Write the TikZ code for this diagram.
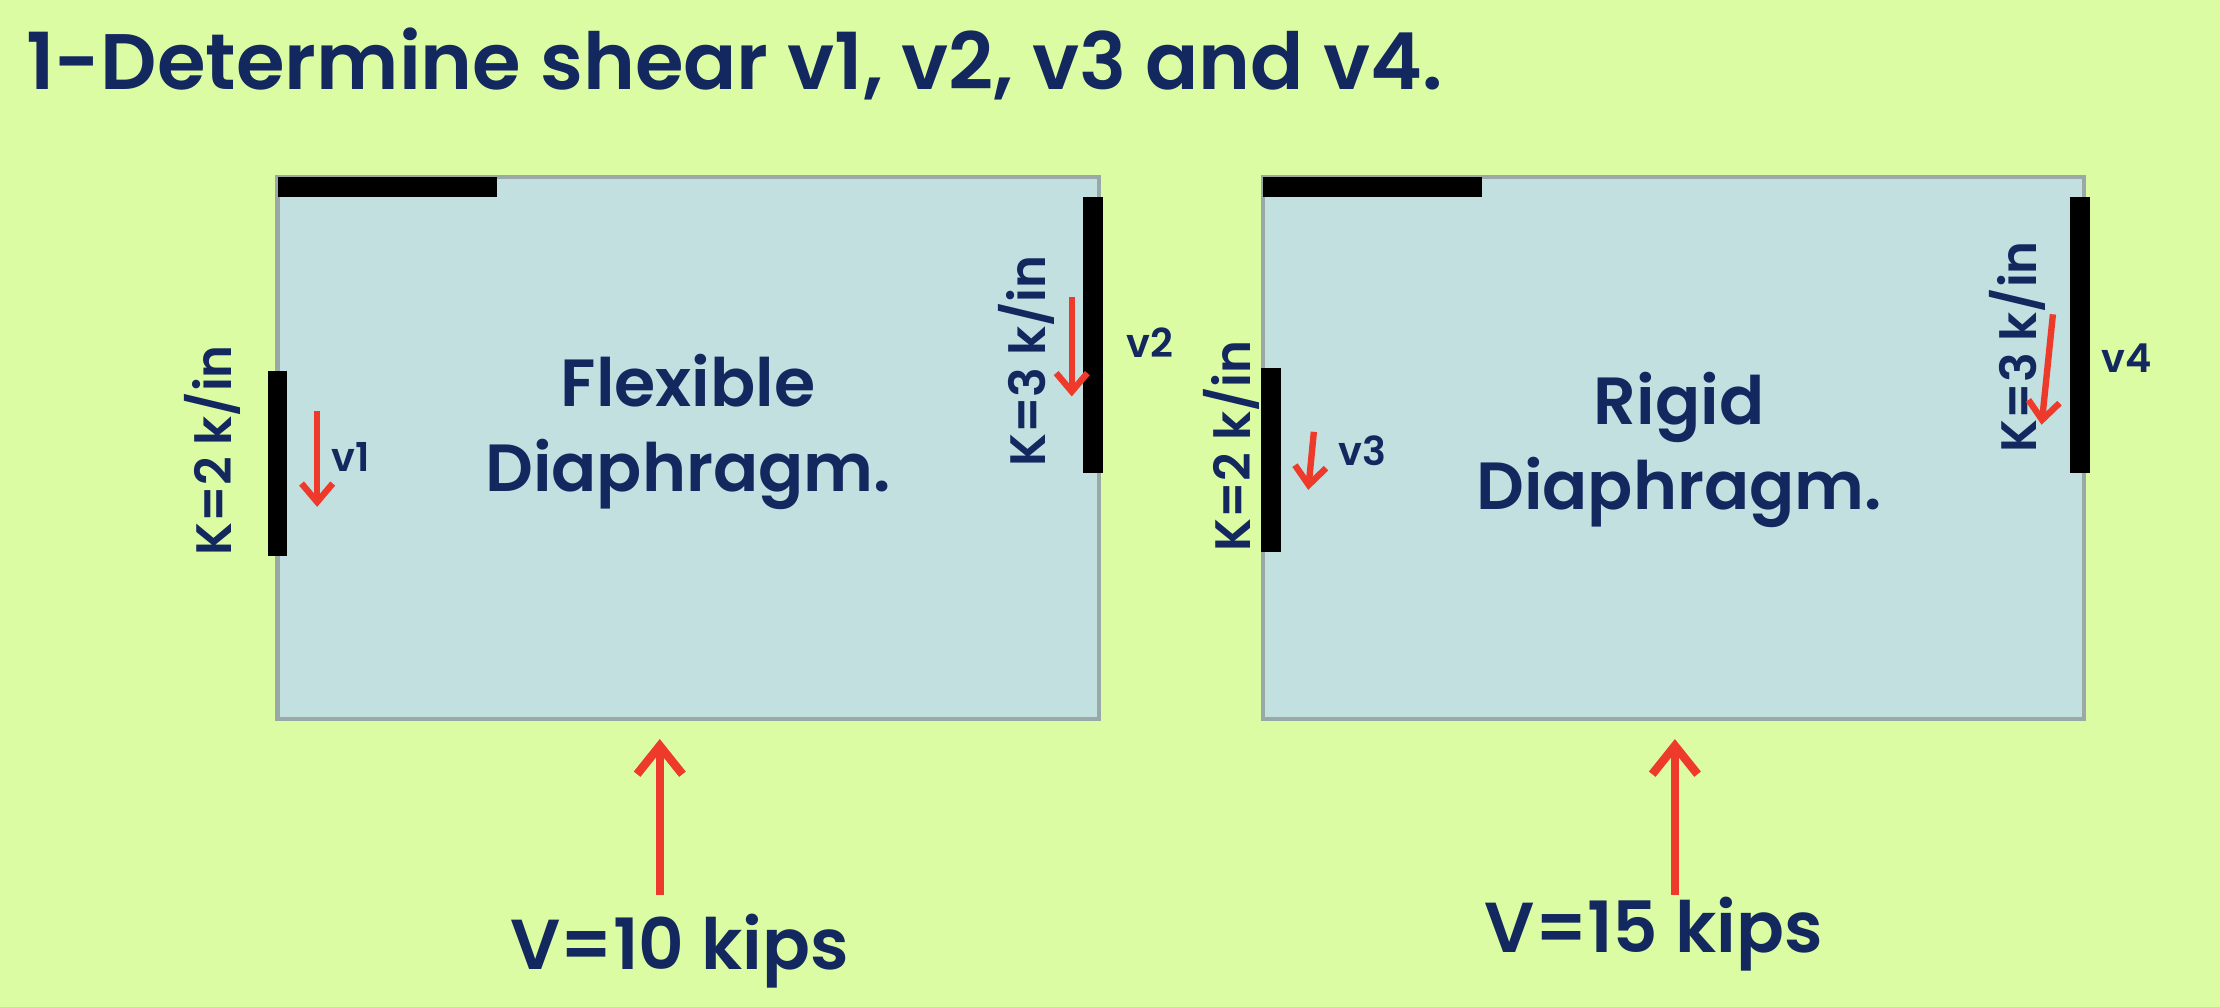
\documentclass[tikz,border=0pt]{standalone}
\usepackage{fontspec}
\setmainfont{Poppins}[BoldFont={* SemiBold}]
\usetikzlibrary{arrows.meta}
\definecolor{bg}{HTML}{DCFCA4}
\definecolor{panel}{HTML}{C2E0E0}
\definecolor{edge}{HTML}{9AA8A8}
\definecolor{navy}{HTML}{13285F}
\definecolor{redar}{HTML}{EE3A2A}
\begin{document}
\begin{tikzpicture}[x=0.01cm,y=-0.01cm,
  txt/.style={text=navy,font=\bfseries,inner sep=0pt},
  wall/.style={line width=0.14cm,black},
  redarrow/.style={redar,line width=0.045cm,-{Straight Barb[length=0.13cm,width=0.22cm]}},
  bigarrow/.style={redar,line width=0.06cm,-{Straight Barb[length=0.2cm,width=0.32cm]}},
  panelbox/.style={fill=panel,draw=edge,line width=0.03cm}]
\fill[bg] (0,0) rectangle (1568,711);
\node[txt,font=\fontsize{15.8}{19}\bfseries\selectfont,anchor=west] (title) at (18,45) {1-Determine shear v1, v2, v3 and v4.};
% left panel
\draw[panelbox] (196,125) rectangle (776,508);
\draw[wall] (196,132) -- (351,132);
\draw[wall] (196,262) -- (196,393);
\draw[wall] (772,139) -- (772,334);
\node[txt,font=\fontsize{10}{12}\bfseries\selectfont,rotate=90] (k1) at (150,318) {K=2 k/in};
\node[txt,font=\fontsize{10}{12}\bfseries\selectfont,rotate=90] (k2) at (725,255) {K=3 k/in};
\node[txt,font=\fontsize{13.4}{17}\bfseries\selectfont,align=center] (flex) at (486,305) {Flexible\\Diaphragm.};
\coordinate (a1s) at (224,290); \coordinate (a1e) at (224,358);
\draw[redarrow] (a1s) -- (a1e);
\node[txt,font=\fontsize{8}{9}\bfseries\selectfont] (v1) at (248,323) {v1};
\coordinate (a2s) at (757,210); \coordinate (a2e) at (757,280);
\draw[redarrow] (a2s) -- (a2e);
\node[txt,font=\fontsize{8}{9}\bfseries\selectfont] (v2) at (812,242) {v2};
\coordinate (b1s) at (466,632); \coordinate (b1e) at (466,522);
\draw[bigarrow] (b1s) -- (b1e);
\node[txt,font=\fontsize{14.2}{17}\bfseries\selectfont] (V1) at (480,672) {V=10 kips};
% right panel
\draw[panelbox] (892,125) rectangle (1472,508);
\draw[wall] (892,132) -- (1047,132);
\draw[wall] (898,260) -- (898,390);
\draw[wall] (1469,139) -- (1469,334);
\node[txt,font=\fontsize{10}{12}\bfseries\selectfont,rotate=90] (k3) at (870,315) {K=2 k/in};
\node[txt,font=\fontsize{10}{12}\bfseries\selectfont,rotate=90] (k4) at (1425,245) {K=3 k/in};
\node[txt,font=\fontsize{13.4}{17}\bfseries\selectfont,align=center] (rigid) at (1186,318) {Rigid\\Diaphragm.};
\coordinate (a3s) at (928,305); \coordinate (a3e) at (924,346);
\draw[redarrow] (a3s) -- (a3e);
\node[txt,font=\fontsize{8}{9}\bfseries\selectfont] (v3) at (962,318) {v3};
\coordinate (a4s) at (1450,222); \coordinate (a4e) at (1442,300);
\draw[redarrow] (a4s) -- (a4e);
\node[txt,font=\fontsize{8}{9}\bfseries\selectfont] (v4) at (1502,253) {v4};
\coordinate (b2s) at (1183,632); \coordinate (b2e) at (1183,522);
\draw[bigarrow] (b2s) -- (b2e);
\node[txt,font=\fontsize{14.2}{17}\bfseries\selectfont] (V2) at (1168,660) {V=15 kips};
\end{tikzpicture}
\end{document}
